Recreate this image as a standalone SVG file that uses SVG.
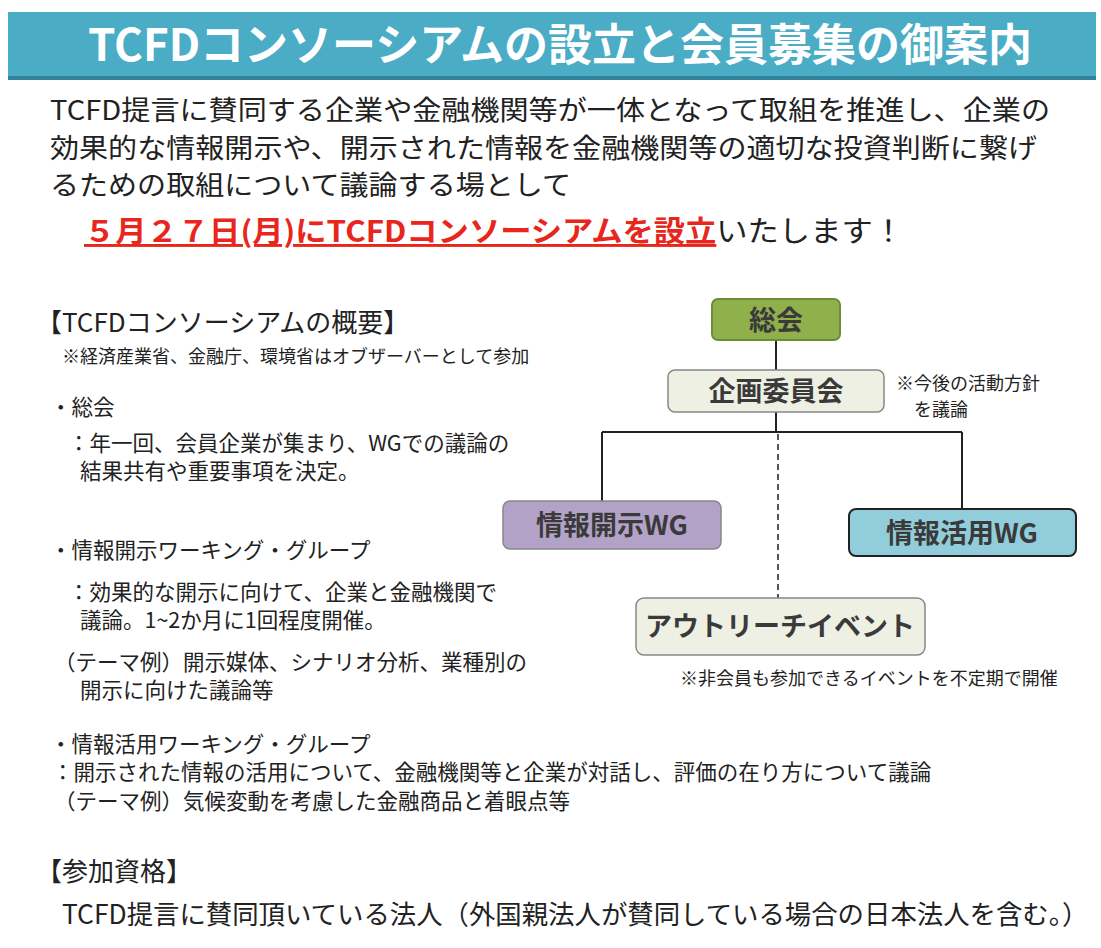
<svg xmlns="http://www.w3.org/2000/svg" width="1101" height="948" viewBox="0 0 1101 948">
<style>
text{font-family:"Noto Sans CJK JP","Noto Sans",sans-serif;fill:#222}
.b{font-size:27px}
.m{font-size:21.5px}
.s{font-size:18px}
.n{font-size:27px;font-weight:bold;fill:#3a3a3a;text-anchor:middle}
.c{stroke:#222;stroke-width:2;fill:none}
</style>
<rect width="1101" height="948" fill="#fff"/>
<g id="header">
<rect x="8" y="14" width="1088" height="66" fill="#31849b"/>
<rect x="8" y="12" width="1088" height="64" fill="#4bacc6"/>
<text x="560" y="61" text-anchor="middle" style="font-size:44px;font-weight:bold;fill:#fff">TCFDコンソーシアムの設立と会員募集の御案内</text>
</g>
<g id="intro">
<text x="50" y="120" class="b" textLength="1000" lengthAdjust="spacingAndGlyphs">TCFD提言に賛同する企業や金融機関等が一体となって取組を推進し、企業の</text>
<text x="50" y="158" class="b" textLength="987" lengthAdjust="spacingAndGlyphs">効果的な情報開示や、開示された情報を金融機関等の適切な投資判断に繋げ</text>
<text x="50" y="195" class="b" textLength="521" lengthAdjust="spacingAndGlyphs">るための取組について議論する場として</text>
<text x="84" y="242" style="font-size:29px" textLength="820" lengthAdjust="spacingAndGlyphs"><tspan style="fill:#e8261c;font-weight:bold;text-decoration:underline">５月２７日(月)にTCFDコンソーシアムを設立</tspan>いたします！</text>
</g>
<g id="overview">
<text x="36" y="332" style="font-size:26px">【TCFDコンソーシアムの概要】</text>
<text x="62" y="363" class="s">※経済産業省、金融庁、環境省はオブザーバーとして参加</text>
<text x="50" y="415" class="m">・総会</text>
<text x="68" y="451" class="m">：年一回、会員企業が集まり、WGでの議論の</text>
<text x="80" y="479" class="m">結果共有や重要事項を決定。</text>
<text x="50" y="558" class="m">・情報開示ワーキング・グループ</text>
<text x="68" y="600" class="m">：効果的な開示に向けて、企業と金融機関で</text>
<text x="80" y="628" class="m">議論。1~2か月に1回程度開催。</text>
<text x="54" y="670" class="m">（テーマ例）開示媒体、シナリオ分析、業種別の</text>
<text x="80" y="698" class="m">開示に向けた議論等</text>
<text x="50" y="752" class="m">・情報活用ワーキング・グループ</text>
<text x="52" y="780" class="m">：開示された情報の活用について、金融機関等と企業が対話し、評価の在り方について議論</text>
<text x="54" y="809" class="m">（テーマ例）気候変動を考慮した金融商品と着眼点等</text>
</g>
<g id="qualification">
<text x="36" y="881" style="font-size:26px">【参加資格】</text>
<text x="62" y="924" style="font-size:26.4px">TCFD提言に賛同頂いている法人（外国親法人が賛同している場合の日本法人を含む。）</text>
</g>
<g id="connectors">
<path class="c" d="M776 340V370M776 412V432M602 432H962M602 432V501M962 432V509"/>
<path class="c" d="M778 434V598" stroke-dasharray="6 4" style="stroke:#555"/>
</g>
<g id="n-soukai"><rect x="712" y="299" width="128" height="41" rx="6" fill="#8fb04a" stroke="#6e8c32" stroke-width="2"/><text x="776" y="330" class="n">総会</text></g>
<g id="n-kikaku"><rect x="668" y="370" width="216" height="42" rx="7" fill="#eef0e3" stroke="#888" stroke-width="1.5"/><text x="776" y="401" class="n">企画委員会</text></g>
<text x="896" y="390" class="s">※今後の活動方針</text>
<text x="914" y="416" class="s">を議論</text>
<g id="n-kaiji"><rect x="503" y="501" width="218" height="48" rx="7" fill="#b3a2c7" stroke="#888" stroke-width="1.5"/><text x="612" y="535" class="n">情報開示WG</text></g>
<g id="n-katsuyo"><rect x="849" y="509" width="227" height="47" rx="7" fill="#92cddc" stroke="#222" stroke-width="2"/><text x="962" y="543" class="n">情報活用WG</text></g>
<g id="n-outreach"><rect x="636" y="598" width="289" height="57" rx="8" fill="#eef0e3" stroke="#888" stroke-width="1.5"/><text x="780" y="636" class="n">アウトリーチイベント</text></g>
<text x="680" y="685" class="s">※非会員も参加できるイベントを不定期で開催</text>
</svg>
